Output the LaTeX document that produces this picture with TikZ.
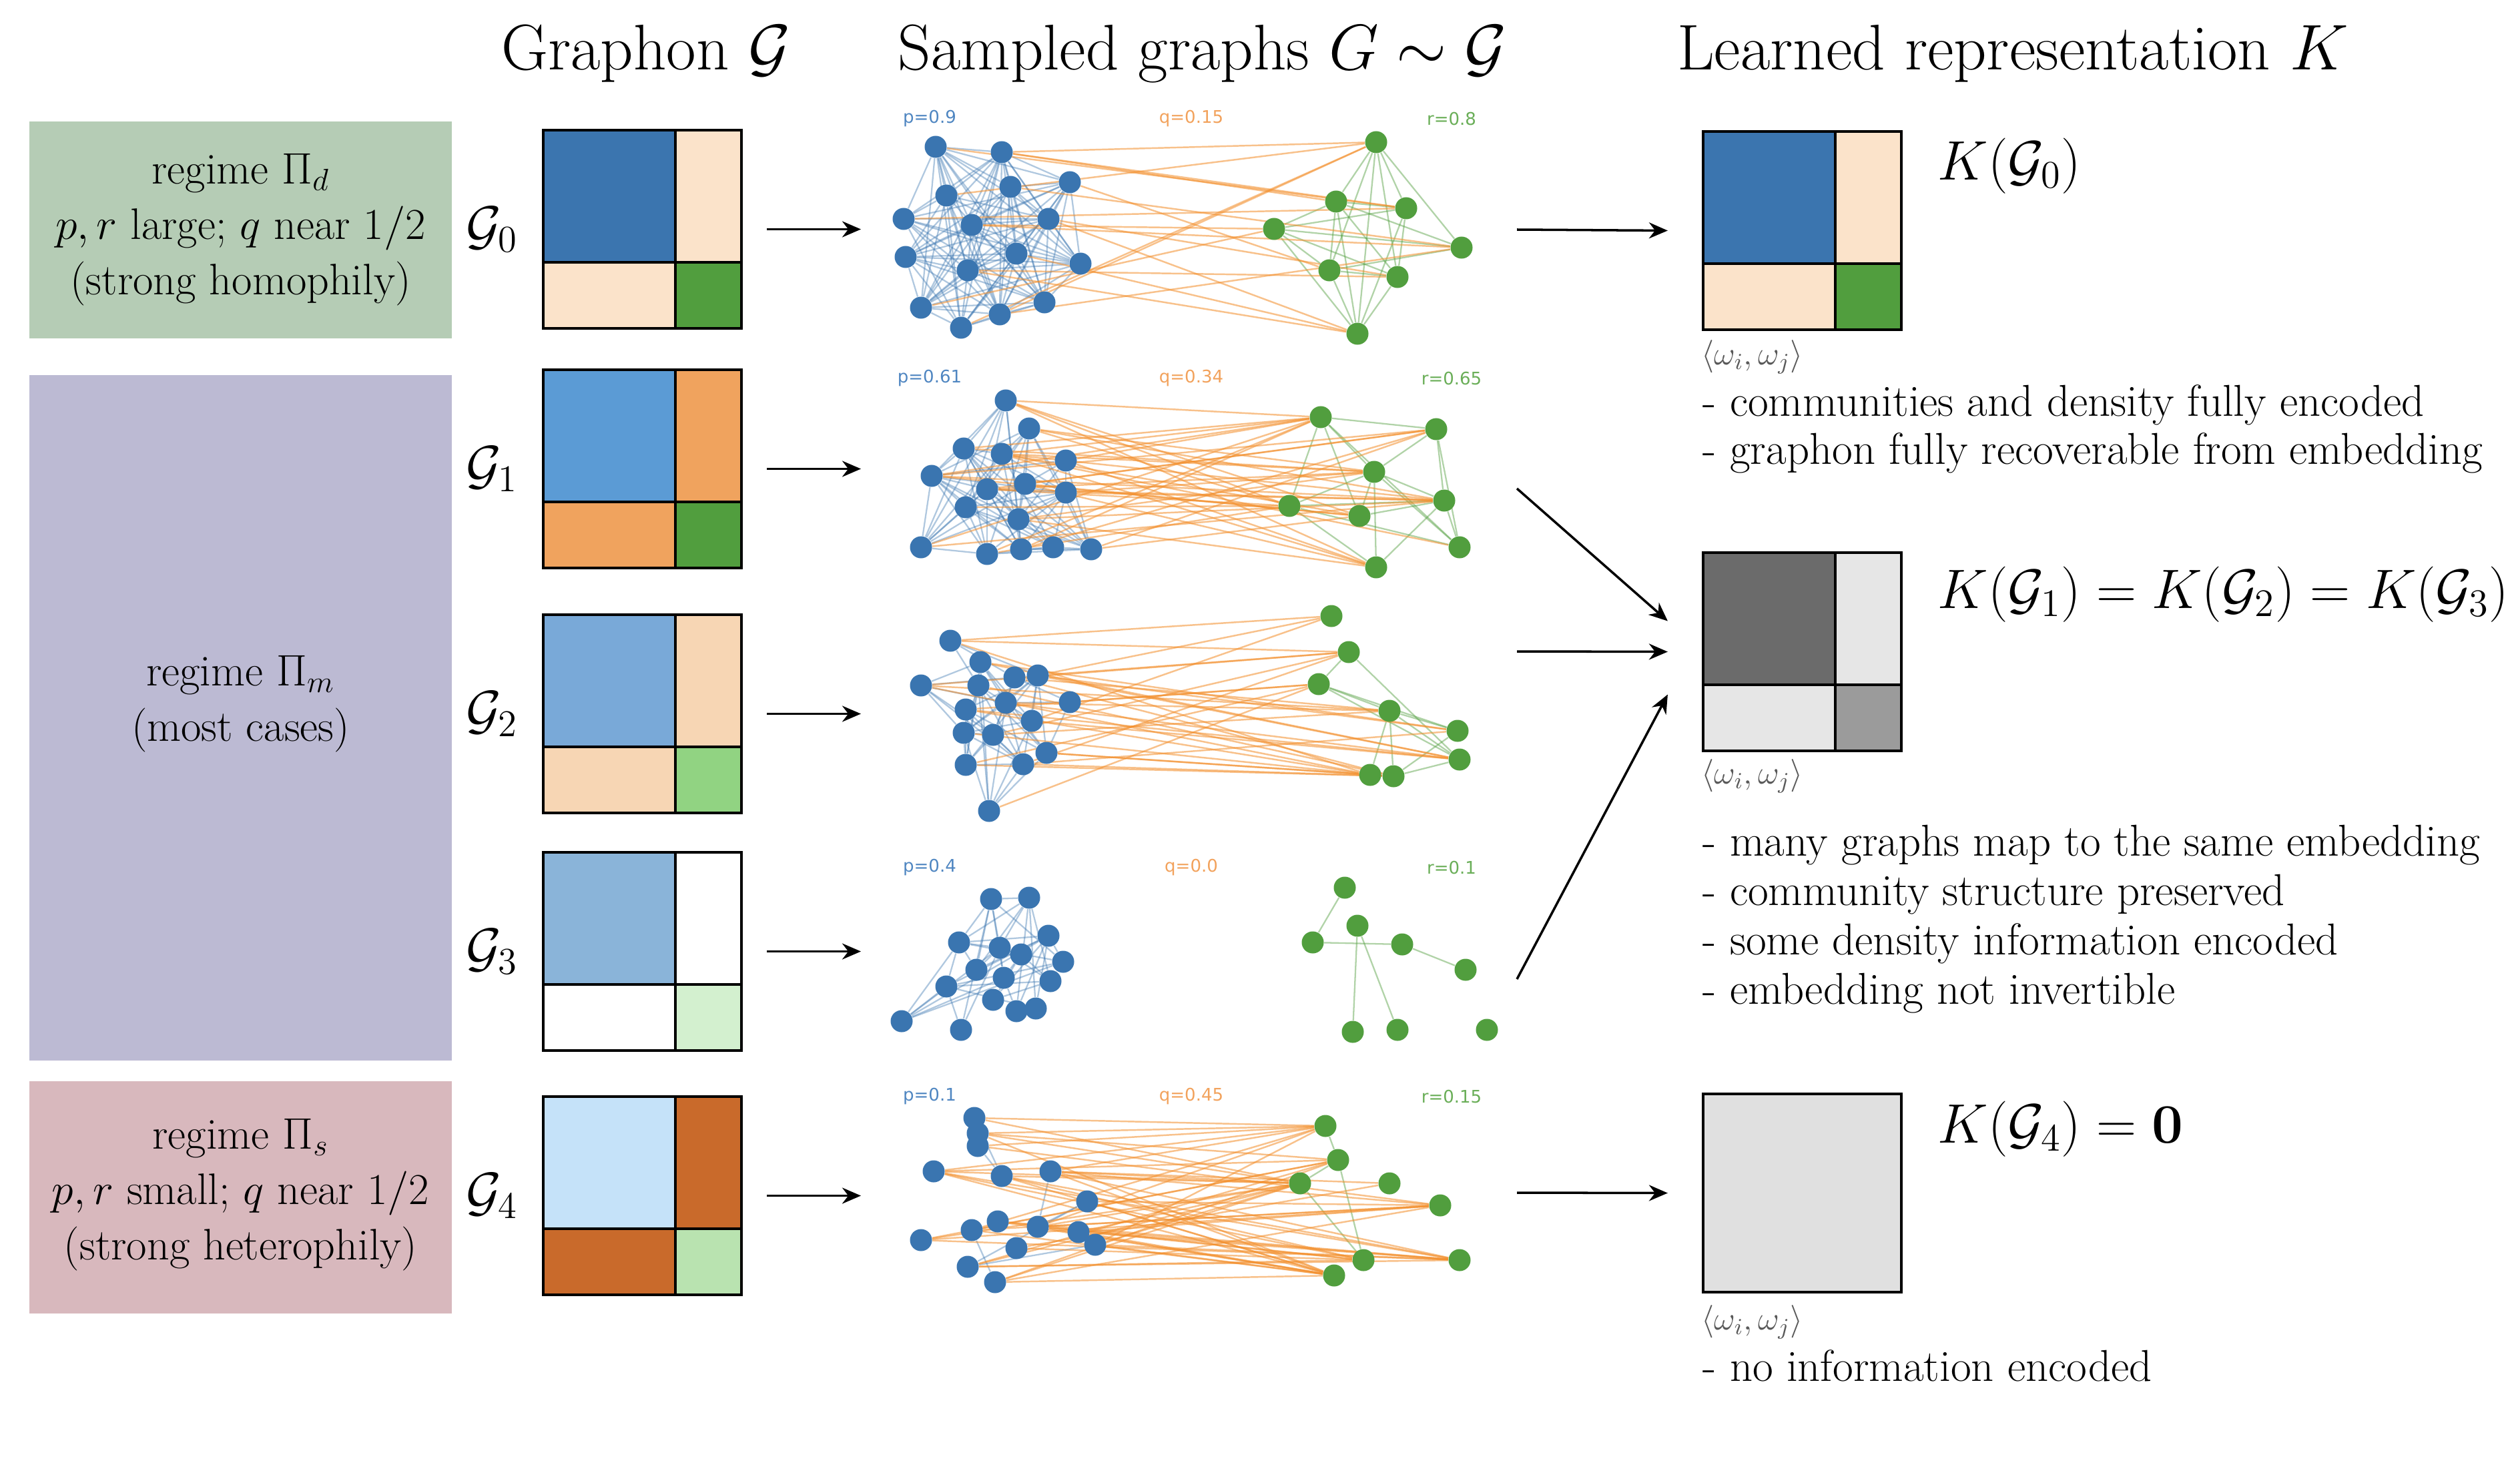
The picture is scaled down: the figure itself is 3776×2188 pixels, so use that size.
\RequirePackage{fix-cm}
\documentclass[tikz,border=0pt]{standalone}
\usepackage{amsmath}
\usepackage[no-math]{fontspec}
\newfontfamily\plotfont{DejaVu Sans}
\usetikzlibrary{arrows.meta,positioning,backgrounds}

% graph drawing colours
\definecolor{nodeblue}{HTML}{3A75B0}
\definecolor{nodegreen}{HTML}{519E3E}
\definecolor{edgeorange}{HTML}{F28E2B}
\definecolor{labblue}{HTML}{4F86C1}
\definecolor{laborange}{HTML}{F2A25C}
\definecolor{labgreen}{HTML}{6AAE58}
% regime boxes
\definecolor{regd}{HTML}{B5CCB5}
\definecolor{regm}{HTML}{BCBAD3}
\definecolor{regs}{HTML}{D8B8BD}
% graphon blocks
\definecolor{blue0}{HTML}{3B75AF}\definecolor{off0}{HTML}{FBE3CA}\definecolor{green0}{HTML}{519E3E}
\definecolor{blue1}{HTML}{5B9BD5}\definecolor{off1}{HTML}{F0A35E}\definecolor{green1}{HTML}{519E3E}
\definecolor{blue2}{HTML}{79A9D8}\definecolor{off2}{HTML}{F7D6B4}\definecolor{green2}{HTML}{91D382}
\definecolor{blue3}{HTML}{8AB4D9}\definecolor{off3}{HTML}{FFFFFF}\definecolor{green3}{HTML}{D3F0CF}
\definecolor{blue4}{HTML}{C5E2F9}\definecolor{off4}{HTML}{C96A2B}\definecolor{green4}{HTML}{B9E3B0}
% learned kernels
\definecolor{kdark}{HTML}{6B6B6B}
\definecolor{klight}{HTML}{E6E6E6}
\definecolor{kmid}{HTML}{9B9B9B}
\definecolor{kzero}{HTML}{E0E0E0}

% 2x2 block matrix: name, centre, top-left, off-diagonal, bottom-right
\newcommand{\blockgraphon}[5]{%
  \node[graphon, fill=#4] (#1) at (#2) {};
  \fill[#3] (#1.north west) rectangle ++(198,198);
  \fill[#5] (#1.south east) rectangle ++(-99,-99);
  \draw[mline] ([xshift=1.98cm]#1.north west) -- ([xshift=1.98cm]#1.south west);
  \draw[mline] ([yshift=-1.98cm]#1.north west) -- ([yshift=-1.98cm]#1.north east);
  \draw[mline] (#1.north west) rectangle (#1.south east);
}
% random edges inside one community: prefix, count, probability, style
\newcommand{\inedges}[4]{%
  \pgfmathtruncatemacro{\nlast}{#2-1}%
  \foreach \i [evaluate=\i as \inext using int(\i+1)] in {1,...,\nlast}{%
    \foreach \j in {\inext,...,#2}{%
      \pgfmathtruncatemacro{\keep}{rnd<#3}%
      \ifnum\keep=1 \draw[#4] (#1-\i) -- (#1-\j);\fi
    }%
  }%
}
% random edges between the two communities
\newcommand{\crossedges}[4]{%
  \foreach \i in {1,...,16}{%
    \foreach \j in {1,...,8}{%
      \pgfmathtruncatemacro{\keep}{rnd<#3}%
      \ifnum\keep=1 \draw[#4] (#1-\i) -- (#2-\j);\fi
    }%
  }%
}

\begin{document}
\begin{tikzpicture}[x=0.01cm,y=-0.01cm,
    headline/.style={font=\fontsize{27.5}{32}\selectfont, anchor=base, inner sep=0pt},
    regime/.style={minimum width=6.33cm, inner sep=0pt, outer sep=0pt},
    regtext/.style={align=center, font=\fontsize{18.8}{23.6}\selectfont},
    graphon/.style={minimum size=2.97cm, inner sep=0pt, outer sep=0pt},
    mline/.style={line width=1pt},
    glabel/.style={font=\fontsize{23}{27}\selectfont, inner sep=0pt},
    klabel/.style={font=\fontsize{23.7}{28}\selectfont, anchor=base west, inner sep=0pt},
    omega/.style={font=\fontsize{14}{16}\selectfont, text=black!65, anchor=west, inner sep=0pt},
    remark/.style={font=\fontsize{19}{21}\selectfont, anchor=base west, inner sep=0pt},
    bnode/.style={circle, fill=nodeblue, minimum size=0.33cm, inner sep=0pt},
    cnode/.style={circle, fill=nodegreen, minimum size=0.33cm, inner sep=0pt},
    bedge/.style={draw=nodeblue, draw opacity=0.4, line width=0.65pt},
    oedge/.style={draw=edgeorange, draw opacity=0.55, line width=0.7pt},
    gedge/.style={draw=nodegreen, draw opacity=0.45, line width=0.65pt},
    plab/.style={font=\plotfont\fontsize{7.4}{9}\selectfont, inner sep=0pt},
    maparrow/.style={-{Stealth[length=2.8mm,width=2.4mm]}, line width=1pt},
  ]
\useasboundingbox (0,0) rectangle (3776,2188);

% column titles
\node[headline] (ttl-graphon) at (968,105) {Graphon $\mathcal{G}$};
\node[headline] (ttl-sampled) at (1802,105) {Sampled graphs $G \sim \mathcal{G}$};
\node[headline] (ttl-learned) at (3016,105) {Learned representation $K$};

% regimes
\node[regime, fill=regd, minimum height=3.25cm] (dense) at (360.5,344.5) {};
\node[regime, fill=regm, minimum height=10.27cm] (middle) at (360.5,1075.5) {};
\node[regime, fill=regs, minimum height=3.48cm] (sparse) at (360.5,1794) {};
\node[regtext] (dense-txt) at (dense) {regime $\Pi_d$\\ $p, r$ large; $q$ near $1/2$\\ (strong homophily)};
\node[regtext] (middle-txt) at ([yshift=0.21cm]middle.center) {regime $\Pi_m$\\ (most cases)};
\node[regtext] (sparse-txt) at ([yshift=0.04cm]sparse.center) {regime $\Pi_s$\\ $p, r$ small; $q$ near $1/2$\\ (strong heterophily)};

% graphons
\blockgraphon{gph0}{962.5,343.5}{blue0}{off0}{green0}
\blockgraphon{gph1}{962.5,702.5}{blue1}{off1}{green1}
\blockgraphon{gph2}{962.5,1069.5}{blue2}{off2}{green2}
\blockgraphon{gph3}{962.5,1425.5}{blue3}{off3}{green3}
\blockgraphon{gph4}{962.5,1791.5}{blue4}{off4}{green4}
\foreach \i in {0,...,4}
  \node[glabel] (gl\i) at (737,0 |- gph\i) {$\mathcal{G}_\i$};

\foreach \i/\y in {0/343.5,1/702.5,2/1069.5,3/1425.5,4/1791.5}{
  \coordinate (s\i) at (1290,\y);
  \draw[maparrow] ([xshift=0.38cm]gph\i.east) -- (s\i);
}

% sampled graphs: nodes
\foreach \x/\y [count=\i] in {1402/220,1501/228,1603/273,1514/280,1418/293,1354/328,1456/337,1571/328,1357/385,1523/380,1450/405,1619/395,1380/461,1498/471,1565/453,1440/491}
  \node[bnode] (blu0-\i) at (\x,\y) {};
\foreach \x/\y [count=\i] in {2062/213,2002/302,2107/312,1909/343,2190/371,1992/405,2094/415,2034/500}
  \node[cnode] (grn0-\i) at (\x,\y) {};

\foreach \x/\y [count=\i] in {1507/600,1542/642,1444/672,1501/680,1597/690,1396/713,1479/733,1536/725,1597/738,1447/760,1526/778,1380/820,1479/830,1530/823,1578/820,1635/823}
  \node[bnode] (blu1-\i) at (\x,\y) {};
\foreach \x/\y [count=\i] in {1979/625,2152/643,2059/707,1932/758,2164/750,2037/773,2187/820,2062/850}
  \node[cnode] (grn1-\i) at (\x,\y) {};

\foreach \x/\y [count=\i] in {1424/960,1469/992,1380/1027,1466/1027,1520/1015,1555/1012,1507/1053,1603/1052,1447/1063,1546/1080,1444/1098,1488/1101,1568/1128,1447/1146,1533/1145,1482/1215}
  \node[bnode] (blu2-\i) at (\x,\y) {};
\foreach \x/\y [count=\i] in {1995/923,2021/977,1976/1025,2082/1065,2184/1095,2187/1138,2053/1161,2088/1163}
  \node[cnode] (grn2-\i) at (\x,\y) {};

\foreach \x/\y [count=\i] in {1485/1347,1542/1345,1437/1412,1498/1420,1571/1402,1530/1430,1593/1441,1463/1453,1504/1465,1574/1470,1418/1478,1488/1498,1523/1515,1552/1511,1351/1530,1440/1543}
  \node[bnode] (blu3-\i) at (\x,\y) {};
\foreach \x/\y [count=\i] in {2015/1330,2034/1387,1967/1412,2101/1415,2196/1453,2027/1546,2094/1543,2228/1543}
  \node[cnode] (grn3-\i) at (\x,\y) {};

\foreach \x/\y [count=\i] in {1460/1675,1465/1698,1465/1717,1399/1755,1501/1762,1574/1755,1629/1800,1495/1830,1456/1843,1555/1838,1616/1846,1641/1865,1380/1858,1523/1870,1450/1898,1491/1921}
  \node[bnode] (blu4-\i) at (\x,\y) {};
\foreach \x/\y [count=\i] in {1986/1687,2005/1738,1948/1773,2082/1773,2158/1806,2043/1888,2187/1888,1999/1911}
  \node[cnode] (grn4-\i) at (\x,\y) {};

% sampled graphs: edges under the nodes
\begin{scope}[on background layer]
  \pgfmathsetseed{7}
  \inedges{blu0}{16}{0.9}{bedge}
  \inedges{grn0}{8}{0.8}{gedge}
  \crossedges{blu0}{grn0}{0.15}{oedge}
  \pgfmathsetseed{21}
  \inedges{blu1}{16}{0.61}{bedge}
  \inedges{grn1}{8}{0.65}{gedge}
  \crossedges{blu1}{grn1}{0.34}{oedge}
  \pgfmathsetseed{33}
  \inedges{blu2}{16}{0.5}{bedge}
  \foreach \a/\b in {2/3,2/6,3/4,3/5,3/6,4/5,4/6,4/7,4/8,7/8,6/8,5/8}
    \draw[gedge] (grn2-\a) -- (grn2-\b);
  \crossedges{blu2}{grn2}{0.2}{oedge}
  \pgfmathsetseed{45}
  \inedges{blu3}{16}{0.4}{bedge}
  \foreach \a/\b in {1/3,3/4,2/6,2/7,4/5}
    \draw[gedge] (grn3-\a) -- (grn3-\b);
  \pgfmathsetseed{58}
  \inedges{blu4}{16}{0.1}{bedge}
  \foreach \a/\b in {1/2,2/3,3/6,2/6}
    \draw[gedge] (grn4-\a) -- (grn4-\b);
  \crossedges{blu4}{grn4}{0.45}{oedge}
\end{scope}

% block probabilities above the samples
\foreach \r/\y/\pv/\qv/\rv in {0/178/0.9/0.15/0.8,1/567/0.61/0.34/0.65,3/1300/0.4/0.0/0.1,4/1643/0.1/0.45/0.15}{
  \node[plab, text=labblue] (p\r) at (1393,\y) {p=\pv};
  \node[plab, text=laborange] (q\r) at (1785,\y) {q=\qv};
  \node[plab, text=labgreen] (r\r) at (2175,\y) {r=\rv};
}

% learned representations
\blockgraphon{rep0}{2700.5,345.5}{blue0}{off0}{green0}
\blockgraphon{rep1}{2700.5,976.5}{kdark}{klight}{kmid}
\node[graphon, fill=kzero] (rep4) at (2700.5,1787.5) {};
\draw[mline] (rep4.north west) rectangle (rep4.south east);

\foreach \i/\y in {0/344,1/732,2/976,3/1467,4/1787}
  \coordinate (t\i) at (2273,\y);
\draw[maparrow] (t0) -- ([xshift=-0.53cm]rep0.west);
\draw[maparrow] (t1) -- ([shift={(-53,-46)}]rep1.west);
\draw[maparrow] (t2) -- ([xshift=-0.53cm]rep1.west);
\draw[maparrow] (t3) -- ([shift={(-53,64)}]rep1.west);
\draw[maparrow] (t4) -- ([xshift=-0.53cm]rep4.west);

\node[klabel] (k0) at (2903,269) {$K(\mathcal{G}_0)$};
\node[klabel] (k1) at (2903,911) {$K(\mathcal{G}_1) = K(\mathcal{G}_2) = K(\mathcal{G}_3)$};
\node[klabel] (k4) at (2903,1712) {$K(\mathcal{G}_4) = \mathbf{0}$};

\node[omega] (w0) at (2549,535) {$\langle \omega_i, \omega_j \rangle$};
\node[omega] (w1) at (2549,1163) {$\langle \omega_i, \omega_j \rangle$};
\node[omega] (w4) at (2549,1981) {$\langle \omega_i, \omega_j \rangle$};

\foreach \txt [count=\n from 0] in {- communities and density fully encoded, - graphon fully recoverable from embedding}
  \node[remark] (rem0-\n) at (2551,623+72*\n) {\txt};
\foreach \txt [count=\n from 0] in {- many graphs map to the same embedding, - community structure preserved, - some density information encoded, - embedding not invertible}
  \node[remark] (rem1-\n) at (2551,1282+74*\n) {\txt};
\node[remark] (rem4-0) at (2551,2069) {- no information encoded};
\end{tikzpicture}
\end{document}
